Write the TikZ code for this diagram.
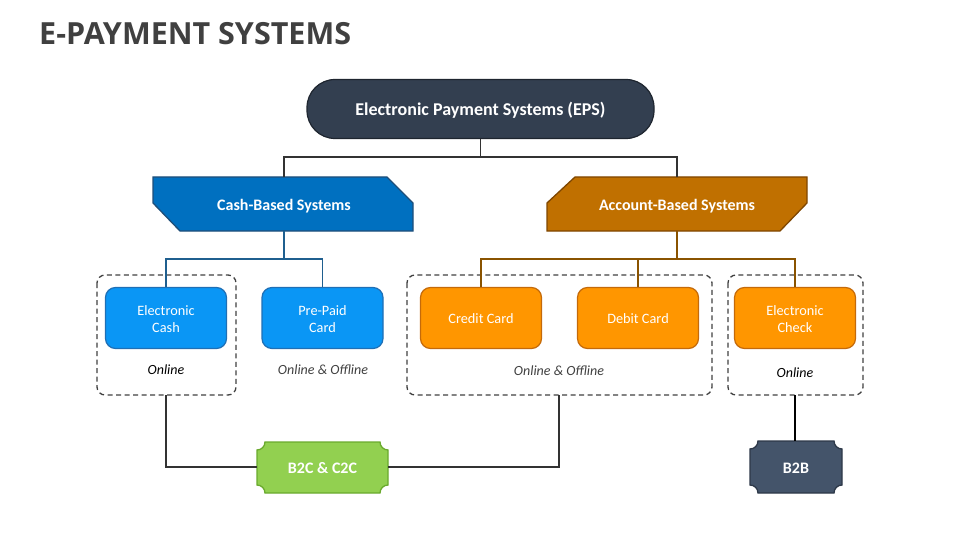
\documentclass[tikz,border=0pt]{standalone}
\usepackage{fontspec}
\setmainfont{Carlito}
\newfontfamily\titlefont{Open Sans}
\definecolor{titlec}{HTML}{404040}
\definecolor{epsfill}{HTML}{333F50}
\definecolor{epsline}{HTML}{1E252F}
\definecolor{cashfill}{HTML}{0070C0}
\definecolor{cashline}{HTML}{1F4E79}
\definecolor{acctfill}{HTML}{C07000}
\definecolor{acctline}{HTML}{7F4600}
\definecolor{bluefill}{HTML}{0A96F5}
\definecolor{blueline}{HTML}{1F6FB5}
\definecolor{orfill}{HTML}{FF9600}
\definecolor{orline}{HTML}{C46A0A}
\definecolor{grfill}{HTML}{92D050}
\definecolor{grline}{HTML}{6AAA2E}
\definecolor{bbfill}{HTML}{44546A}
\definecolor{bbline}{HTML}{2D3848}
\definecolor{blueconn}{HTML}{1F5F8F}
\definecolor{brownconn}{HTML}{8A5300}
\definecolor{darkconn}{HTML}{333333}
\definecolor{dashc}{HTML}{404040}
\tikzset{
  leafbox/.style={draw, line width=1.2pt, rounded corners=10pt, minimum width=121pt, minimum height=61pt, inner sep=0pt, text=white, align=center, font=\fontsize{14.3}{17}\selectfont},
  bluebox/.style={leafbox, fill=bluefill, draw=blueline},
  orbox/.style={leafbox, fill=orfill, draw=orline},
  groupbox/.style={draw=dashc, dashed, dash pattern=on 5pt off 3.5pt, line width=1.3pt, rounded corners=8pt, inner sep=0pt},
  note/.style={font=\itshape\fontsize{14}{16}\selectfont},
  conn/.style={line width=1.5pt},
  hdr/.style={text=white, font=\bfseries\fontsize{16}{19}\selectfont},
}
\begin{document}
\begin{tikzpicture}[x=1pt,y=-1pt]
\useasboundingbox (0,0) rectangle (960,540);
% title
\node[anchor=base west, inner sep=0pt, text=titlec, font=\titlefont\bfseries\fontsize{30.5}{34}\selectfont] (title) at (39,45) {E-PAYMENT SYSTEMS};
% EPS
\node[draw=epsline, fill=epsfill, line width=1.2pt, rounded corners=28pt, minimum width=347pt, minimum height=59pt, text=white, font=\bfseries\fontsize{18}{21}\selectfont] (eps) at (480.5,109) {};
\node[text=white, font=\bfseries\fontsize{18}{21}\selectfont] (epst) at (480.5,110.5) {Electronic Payment Systems (EPS)};
% cash-based
\draw[fill=cashfill, draw=cashline, line width=1.3pt] (153,177) -- (387,177) -- (413,203) -- (413,231) -- (180,231) -- (153,203) -- cycle;
\node[hdr] (cash) at (284,206) {Cash-Based Systems};
\coordinate (cashT) at (284,177);
\coordinate (cashB) at (284,231);
% account-based
\draw[fill=acctfill, draw=acctline, line width=1.3pt] (575,177) -- (807,177) -- (807,203) -- (780,231) -- (547,231) -- (547,203) -- cycle;
\node[hdr] (acct) at (677,206) {Account-Based Systems};
\coordinate (acctT) at (677,177);
\coordinate (acctB) at (677,231);
% group boxes
\draw[groupbox] (97,275) rectangle (236,395);
\draw[groupbox] (407,275) rectangle (712,395);
\draw[groupbox] (728,275) rectangle (863,395);
\coordinate (g1B) at (166,395);
\coordinate (g2B) at (559,395);
\coordinate (g3B) at (795,395);
% leaf boxes
\node[bluebox] (ecash) at (166,318) {};
\node[bluebox] (prepaid) at (322.5,318) {};
\node[orbox] (credit) at (481,318) {};
\node[orbox] (debit) at (638,318) {};
\node[orbox] (echeck) at (795,318) {};
\node[text=white, align=center, font=\fontsize{14.3}{17}\selectfont] (ecasht) at (166,319) {Electronic\\Cash};
\node[text=white, align=center, font=\fontsize{14.3}{17}\selectfont] (prepaidt) at (322.5,319) {Pre-Paid\\Card};
\node[text=white, align=center, font=\fontsize{14.3}{17}\selectfont] (creditt) at (481,319) {Credit Card};
\node[text=white, align=center, font=\fontsize{14.3}{17}\selectfont] (debitt) at (638,319) {Debit Card};
\node[text=white, align=center, font=\fontsize{14.3}{17}\selectfont] (echeckt) at (795,319) {Electronic\\Check};
% notes
\node[note, text=black] (n1) at (166,370) {Online};
\node[note, text=titlec] (n2) at (323,370) {Online \& Offline};
\node[note, text=titlec] (n3) at (559,371) {Online \& Offline};
\node[note, text=black] (n4) at (795,373) {Online};
% B2C plaque
\def\r{8}
\draw[fill=grfill, draw=grline, line width=1.3pt]
  (257+\r,442) -- (388-\r,442) arc[start angle=180, end angle=90, radius=\r]
  -- (388,493-\r) arc[start angle=270, end angle=180, radius=\r]
  -- (257+\r,493) arc[start angle=0, end angle=-90, radius=\r]
  -- (257,442+\r) arc[start angle=90, end angle=0, radius=\r] -- cycle;
\node[text=white, font=\bfseries\fontsize{16}{19}\selectfont] (b2c) at (322.5,468) {B2C \& C2C};
\coordinate (b2cL) at (257,467);
\coordinate (b2cR) at (388,467);
% B2B plaque
\draw[fill=bbfill, draw=bbline, line width=1.3pt]
  (750+\r,441) -- (842-\r,441) arc[start angle=180, end angle=90, radius=\r]
  -- (842,493-\r) arc[start angle=270, end angle=180, radius=\r]
  -- (750+\r,493) arc[start angle=0, end angle=-90, radius=\r]
  -- (750,441+\r) arc[start angle=90, end angle=0, radius=\r] -- cycle;
\node[text=white, font=\bfseries\fontsize{16}{19}\selectfont] (b2b) at (796,468) {B2B};
\coordinate (b2bT) at (795,441);
% connectors
\draw[conn, darkconn] (eps.south) |- (284,157) -| (cashT);
\draw[conn, darkconn] (eps.south) |- (677,157) -| (acctT);
\draw[conn, blueconn] (cashB) |- (166,259) -- (ecash.north);
\draw[conn, blueconn] (cashB) |- (322.5,259) -- (prepaid.north);
\draw[conn, brownconn] (acctB) |- (481,259) -- (credit.north);
\draw[conn, brownconn] (acctB |- 0,259) -| (debit.north);
\draw[conn, brownconn] (acctB) |- (795,259) -- (echeck.north);
\draw[conn, darkconn] (g1B) |- (b2cL);
\draw[conn, darkconn] (b2cR) -| (g2B);
\draw[conn, black] (g3B) -- (b2bT);
\end{tikzpicture}
\end{document}
